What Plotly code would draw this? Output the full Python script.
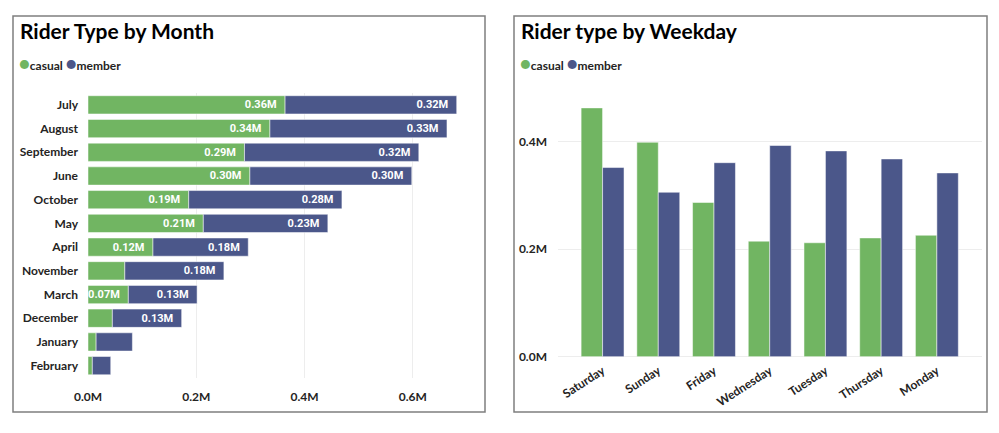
import plotly.graph_objects as go

W, H = 999, 433

# ---- data (values in millions) ----
months = ["July", "August", "September", "June", "October", "May", "April",
          "November", "March", "December", "January", "February"]
casual_month = [0.364, 0.336, 0.289, 0.299, 0.186, 0.213, 0.120,
                0.068, 0.0745, 0.045, 0.015, 0.008]
member_month = [0.317, 0.327, 0.322, 0.299, 0.283, 0.230, 0.176,
                0.183, 0.127, 0.128, 0.067, 0.034]

weekdays = ["Saturday", "Sunday", "Friday", "Wednesday", "Tuesday", "Thursday", "Monday"]
casual_week = [0.463, 0.399, 0.287, 0.215, 0.212, 0.221, 0.226]
member_week = [0.352, 0.306, 0.361, 0.393, 0.383, 0.368, 0.342]

month_ticks = [0.0, 0.2, 0.4, 0.6]
week_ticks = [0.0, 0.2, 0.4]
series_names = ["casual", "member"]

GREEN = "#71B562"
BLUE = "#4B578A"
FONT = "Lato"
TXT = "#252423"


def px_x(p):
    return p / W


def px_y(p):
    return 1 - p / H


def lab(vals):
    return [f"{v:.2f}M\u00a0\u00a0" if v >= 0.07 else "" for v in vals]


fig = go.Figure()
edge = dict(color="rgba(255,255,255,0.5)", width=1)
lblfont = dict(color="white", size=11, family="Roboto", weight="bold")

# Left: stacked horizontal bars
fig.add_trace(go.Bar(
    y=months, x=casual_month, orientation="h", name=series_names[0],
    marker=dict(color=GREEN, line=edge),
    offsetgroup="m", text=lab(casual_month), textposition="inside",
    insidetextanchor="end", constraintext="none", textfont=lblfont,
    xaxis="x", yaxis="y", showlegend=False, hoverinfo="skip"))
fig.add_trace(go.Bar(
    y=months, x=member_month, base=casual_month, orientation="h", name=series_names[1],
    marker=dict(color=BLUE, line=edge),
    offsetgroup="m", text=lab(member_month), textposition="inside",
    insidetextanchor="end", constraintext="none", textfont=lblfont,
    xaxis="x", yaxis="y", showlegend=False, hoverinfo="skip"))

# Right: grouped vertical bars
fig.add_trace(go.Bar(
    x=weekdays, y=casual_week, name=series_names[0], offsetgroup="c",
    marker=dict(color=GREEN, line=edge),
    xaxis="x2", yaxis="y2", showlegend=False, hoverinfo="skip"))
fig.add_trace(go.Bar(
    x=weekdays, y=member_week, name=series_names[1], offsetgroup="w",
    marker=dict(color=BLUE, line=edge),
    xaxis="x2", yaxis="y2", showlegend=False, hoverinfo="skip"))

tickfont = dict(family=FONT, size=12, color=TXT, weight="bold")

legend_text = (f"<span style='color:{GREEN};font-size:18px'>●</span>{series_names[0]} "
               f"<span style='color:{BLUE};font-size:18px'>●</span>{series_names[1]}")


def title_ann(text, x):
    return dict(text=text, x=px_x(x), y=px_y(31), xref="paper", yref="paper",
                xanchor="left", yanchor="middle", showarrow=False,
                font=dict(family=FONT, size=21, color="black", weight="bold"))


def legend_ann(x):
    return dict(text=legend_text, x=px_x(x), y=px_y(63), xref="paper", yref="paper",
                xanchor="left", yanchor="middle", showarrow=False,
                font=dict(family=FONT, size=12, color=TXT, weight="bold"))


fig.update_layout(
    width=W, height=H,
    margin=dict(l=0, r=0, t=0, b=0, autoexpand=False),
    paper_bgcolor="white", plot_bgcolor="white",
    barmode="group", bargap=0.23, bargroupgap=0,
    font=dict(family=FONT, color=TXT),
    xaxis=dict(domain=[px_x(88), px_x(467)], range=[0, 0.7], anchor="y", automargin=False,
               tickvals=month_ticks, ticktext=[f"{t:.1f}M" for t in month_ticks],
               showgrid=True, gridcolor="#EDEDED", gridwidth=1, zeroline=False,
               showline=False, ticks="", tickfont=tickfont, ticklabelstandoff=10),
    yaxis=dict(domain=[px_y(377.5), px_y(93)], anchor="x", automargin=False,
               categoryorder="array", categoryarray=months, autorange="reversed",
               showgrid=False, zeroline=False, showline=False, ticks="",
               tickfont=tickfont, ticklabelstandoff=9),
    xaxis2=dict(domain=[px_x(558), px_x(982)], range=[-0.8, 6.81], anchor="y2",
                automargin=False, categoryorder="array", categoryarray=weekdays,
                showgrid=False, zeroline=False, showline=False, ticks="",
                tickangle=-33, tickfont=tickfont, ticklabelstandoff=4),
    yaxis2=dict(domain=[px_y(356.7), px_y(88)], range=[0, 0.5], anchor="x2",
                automargin=False,
                tickvals=week_ticks, ticktext=[f"{t:.1f}M" for t in week_ticks],
                showgrid=True, gridcolor="#EDEDED", gridwidth=1,
                zeroline=True, zerolinecolor="#EDEDED", zerolinewidth=1,
                showline=False, ticks="", tickfont=tickfont, ticklabelstandoff=10),
    annotations=[
        title_ann("Rider Type by Month", 18),
        title_ann("Rider type by Weekday", 519),
        legend_ann(17),
        legend_ann(518),
    ],
    shapes=[
        dict(type="rect", xref="paper", yref="paper", x0=px_x(13), x1=px_x(485),
             y0=px_y(412), y1=px_y(16), line=dict(color="#7F7F7F", width=1.5)),
        dict(type="rect", xref="paper", yref="paper", x0=px_x(514), x1=px_x(987),
             y0=px_y(412), y1=px_y(16), line=dict(color="#7F7F7F", width=1.5)),
    ],
    showlegend=False,
)

fig.write_html("out.html",
               config={"displayModeBar": False},
               post_script="document.body.style.margin='0';document.body.style.overflow='hidden';")
